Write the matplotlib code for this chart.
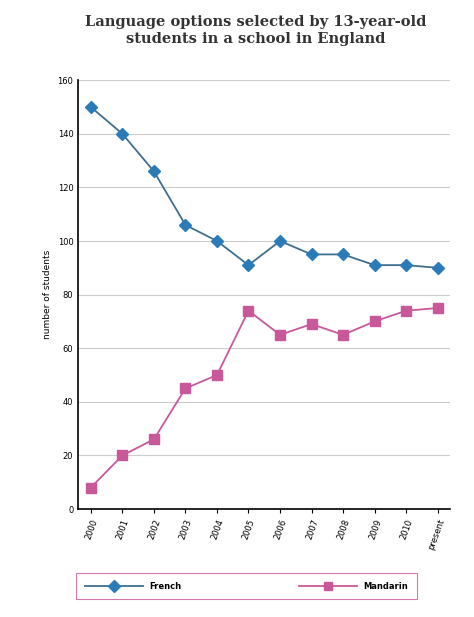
import matplotlib.pyplot as plt
from matplotlib.lines import Line2D

years = ["2000", "2001", "2002", "2003", "2004", "2005", "2006",
         "2007", "2008", "2009", "2010", "present"]
french = [150, 140, 126, 106, 100, 91, 100, 95, 95, 91, 91, 90]
mandarin = [8, 20, 26, 45, 50, 74, 65, 69, 65, 70, 74, 75]

blue = "#2b7bb9"
pink = "#c9589a"

fig = plt.figure(figsize=(4.74, 6.17), dpi=100)
ax = fig.add_axes([0.165, 0.175, 0.785, 0.695])

x = range(len(years))
ax.plot(x, french, color="#3f6f8f", lw=1.3, marker="D", ms=6.5,
        mfc=blue, mec=blue)
ax.plot(x, mandarin, color=pink, lw=1.3, marker="s", ms=7,
        mfc=pink, mec=pink)

ax.set_ylim(0, 160)
ax.set_yticks(range(0, 161, 20))
ax.set_xlim(-0.4, len(years) - 0.6)
ax.set_xticks(list(x))
ax.set_xticklabels(years, rotation=70, ha="right", rotation_mode="anchor",
                   fontsize=6)
ax.tick_params(axis="y", labelsize=6, length=0)
ax.tick_params(axis="x", length=3)
ax.yaxis.grid(True, color="#cccccc", lw=0.8)
ax.set_axisbelow(True)
for s in ["top", "right"]:
    ax.spines[s].set_visible(False)
ax.spines["left"].set_linewidth(1.2)
ax.spines["bottom"].set_linewidth(1.2)
ax.set_ylabel("number of students", fontsize=6.5)

fig.suptitle("Language options selected by 13-year-old\nstudents in a school in England",
             x=0.54, y=0.975, fontsize=10.5, fontweight="bold", family="DejaVu Serif",
             color="#333333")

handles = [Line2D([], [], color="#3f6f8f", marker="D", mfc=blue, mec=blue, ms=6, lw=1.3),
           Line2D([], [], color=pink, marker="s", mfc=pink, mec=pink, ms=6, lw=1.3)]
leg = fig.legend(handles, ["French", "Mandarin"], loc="center",
                 bbox_to_anchor=(0.52, 0.05), ncol=2, fontsize=6,
                 handlelength=7, columnspacing=14, frameon=True, fancybox=False,
                 borderpad=1.0, prop={"weight": "bold", "size": 6})
leg.get_frame().set_edgecolor(pink)
leg.get_frame().set_linewidth(0.8)

fig.savefig("out.png", dpi=100)
